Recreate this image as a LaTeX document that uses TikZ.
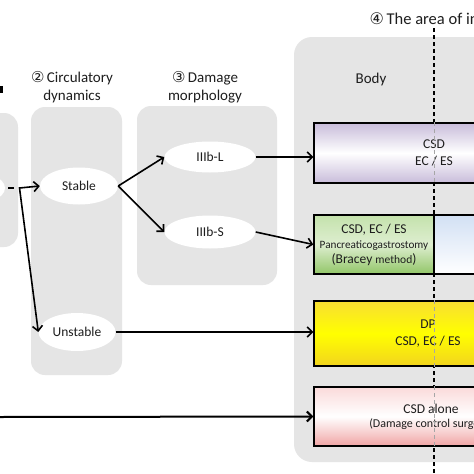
\documentclass[tikz,border=0pt]{standalone}
\usepackage{fontspec}
\setmainfont{Carlito}
\newfontfamily\symf{DejaVu Sans}
\usetikzlibrary{arrows.meta,shapes.geometric}
\definecolor{panel}{RGB}{229,229,229}
\definecolor{txt}{RGB}{30,30,30}
\definecolor{purp}{RGB}{200,188,218}
\definecolor{greenT}{RGB}{196,226,172}
\definecolor{greenM}{RGB}{222,238,208}
\definecolor{greenB}{RGB}{146,198,104}
\definecolor{blueT}{RGB}{210,224,244}
\definecolor{yelT}{RGB}{248,222,50}
\definecolor{yelM}{RGB}{255,255,0}
\definecolor{yelB}{RGB}{242,212,30}
\definecolor{pinkT}{RGB}{250,218,218}
\definecolor{pinkB}{RGB}{240,165,165}
\tikzset{
  panelbox/.style={fill=panel, rounded corners=14pt},
  oval/.style={ellipse, fill=white, inner sep=0pt, text=txt,
    font=\fontsize{13.5}{15}\selectfont},
  head/.style={align=center, text=txt, font=\fontsize{15}{18}\selectfont},
  treat/.style={draw=black, line width=1.4pt, inner sep=0pt, align=center,
    text=txt, font=\fontsize{13.5}{17}\selectfont},
  conn/.style={line width=1.6pt, -{Straight Barb[length=5pt,width=10pt]}},
  plain/.style={line width=1.6pt}
}
\begin{document}
\begin{tikzpicture}[x=1pt,y=-1pt]
\useasboundingbox (0,0) rectangle (474,474);
\clip (0,0) rectangle (474,474);
\fill[white] (0,0) rectangle (474,474);

% panels
\fill[panelbox] (-40,113) rectangle (18,247);
\fill[panelbox] (31,107) rectangle (122,375);
\fill[panelbox] (137,106) rectangle (277,285);
\fill[panelbox, rounded corners=18pt] (294,37) rectangle (540,462);

% fragment of a cut-off heading at the top left
\fill[black] (0,86) rectangle (3,93);

% headings
\node[head] (h2) at (72,87) {{\symf\fontsize{15}{18}\selectfont ②}\,Circulatory\\dynamics};
\node[head] (h3) at (205,87) {{\symf\fontsize{15}{18}\selectfont ③}\,Damage\\morphology};
\node[head, anchor=west, font=\fontsize{16.5}{18}\selectfont] (h4) at (366,20) {{\symf\fontsize{16}{18}\selectfont ④}\,The area of injury};
\node[head] (body) at (371,79) {Body};

% dashed divider (behind boxes)
\coordinate (dtop) at (434,28);
\coordinate (dbot) at (434,474);
\draw[line width=1.5pt, dash pattern=on 4pt off 3pt] (dtop) -- (dbot);

% ellipses
\node[oval, minimum width=80pt, minimum height=36pt] (lft) at (-35,188) {};
\node[oval, minimum width=78pt, minimum height=37pt] (stable) at (79,186) {Stable};
\node[oval, minimum width=77pt, minimum height=38pt] (unstable) at (77,332) {Unstable};
\node[oval, minimum width=91pt, minimum height=31pt] (iiibl) at (210,157) {IIIb-L};
\node[oval, minimum width=91pt, minimum height=33pt] (iiibs) at (210,232) {IIIb-S};

% treatment boxes
\node[treat, minimum width=240pt, minimum height=60pt,
  top color=purp, bottom color=purp, middle color=white] (box1) at (434,153)
  {CSD\\EC / ES};
\node[treat, minimum width=120pt, minimum height=59pt,
  top color=greenT, bottom color=greenB, middle color=greenM] (box2) at (374,244.5)
  {CSD, EC / ES\\[-2pt]{\fontsize{11.2}{14}\selectfont Pancreaticogastrostomy}\\[-2pt](Bracey {\fontsize{11.5}{14}\selectfont method})};
\node[treat, minimum width=120pt, minimum height=59pt,
  top color=blueT, bottom color=white] (box2b) at (494,244.5) {};
\node[treat, minimum width=228pt, minimum height=65pt,
  top color=yelT, bottom color=yelB, middle color=yelM] (box3) at (428,333.5)
  {DP\\CSD, EC / ES};
\node[treat, minimum width=234pt, minimum height=59pt,
  top color=pinkT, bottom color=pinkB, middle color=white] (box4) at (431,416.5)
  {CSD alone\\[-3pt]{\fontsize{12}{14}\selectfont (Damage control surgery)}};

% faint divider over the boxes
\draw[black!35, line width=1pt, dash pattern=on 4pt off 3pt] (box1.north -| dtop) -- (box1.south -| dtop);
\draw[black!35, line width=1pt, dash pattern=on 4pt off 3pt] (box3.north -| dtop) -- (box3.south -| dtop);
\draw[black!35, line width=1pt, dash pattern=on 4pt off 3pt] (box4.north -| dtop) -- (box4.south -| dtop);

% connectors
\coordinate (d1) at (8,188);
\coordinate (d2) at (14,188);
\coordinate (j) at (19.5,188);
\coordinate (bl) at (0,417);
\draw[plain] (d1) -- (d2);
\draw[line width=1.6pt, {Straight Barb[length=5pt,width=10pt]}-{Straight Barb[length=5pt,width=10pt]}]
  (stable.west) -- (j) -- (unstable.west);
\draw[conn] (stable.east) -- (iiibl.west);
\draw[conn] (stable.east) -- (iiibs.west);
\draw[conn] (iiibl.east) -- (iiibl.east -| box1.west);
\draw[conn] (iiibs.east) -- (box2.west);
\draw[conn] (unstable.east) -- (unstable.east -| box3.west);
\draw[line width=2pt, -{Straight Barb[length=5pt,width=10pt]}] (bl) -- (box4.west);
\end{tikzpicture}
\end{document}
